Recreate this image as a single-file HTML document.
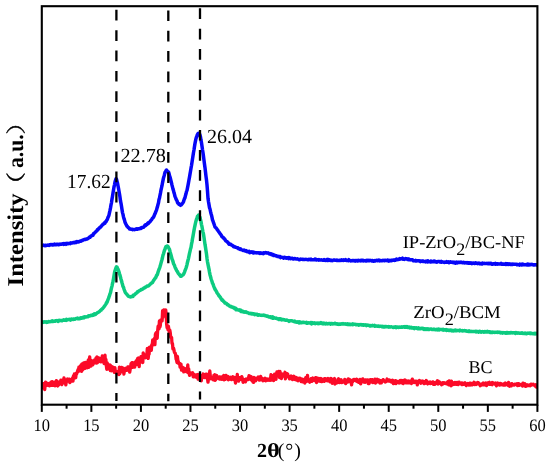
<!DOCTYPE html>
<html><head><meta charset="utf-8"><title>XRD patterns</title>
<style>
html,body{margin:0;padding:0;background:#fff;}
body{width:550px;height:466px;overflow:hidden;}
svg{display:block;}
text{font-family:"Liberation Serif","Noto Serif CJK SC",serif;fill:#000;text-rendering:geometricPrecision;}
</style></head><body>
<svg width="550" height="466" viewBox="0 0 550 466">
<rect width="550" height="466" fill="#fff"/>
<defs><clipPath id="cp"><rect x="41.8" y="6.2" width="495.59999999999997" height="398.5"/></clipPath></defs>
<g fill="none" stroke-linejoin="round" stroke-linecap="butt" clip-path="url(#cp)">
<path d="M41.5 388.5 L42.0 387.8 L42.4 384.9 L42.9 385.5 L43.3 383.6 L43.8 385.9 L44.2 385.7 L44.7 389.5 L45.1 385.5 L45.6 382.1 L46.0 384.2 L46.5 385.3 L46.9 383.1 L47.4 383.7 L47.8 384.4 L48.3 385.4 L48.7 384.5 L49.2 383.4 L49.6 385.9 L50.1 383.8 L50.5 383.8 L51.0 382.3 L51.4 383.2 L51.9 385.3 L52.3 381.7 L52.8 384.1 L53.2 385.2 L53.7 383.4 L54.1 384.3 L54.6 382.1 L55.0 385.9 L55.5 385.4 L55.9 384.0 L56.4 380.7 L56.8 381.8 L57.3 384.9 L57.7 386.0 L58.2 383.6 L58.6 385.1 L59.1 382.0 L59.5 382.6 L60.0 382.8 L60.4 383.4 L60.9 380.1 L61.3 384.0 L61.8 384.5 L62.2 380.4 L62.7 379.9 L63.1 382.6 L63.6 380.9 L64.0 377.9 L64.5 383.1 L64.9 381.9 L65.4 380.7 L65.8 384.9 L66.3 381.5 L66.7 379.8 L67.2 381.1 L67.6 379.0 L68.1 379.3 L68.5 381.1 L69.0 379.3 L69.4 379.2 L69.9 382.7 L70.3 381.0 L70.8 380.7 L71.2 379.9 L71.7 379.6 L72.1 381.0 L72.6 378.0 L73.0 381.1 L73.5 375.6 L73.9 376.5 L74.4 374.0 L74.8 375.4 L75.3 376.6 L75.7 377.8 L76.2 373.3 L76.6 374.0 L77.1 372.6 L77.5 371.3 L78.0 369.7 L78.4 371.5 L78.9 367.2 L79.3 370.3 L79.8 369.5 L80.2 367.5 L80.7 366.2 L81.1 364.9 L81.6 371.4 L82.0 364.0 L82.5 369.9 L82.9 367.4 L83.4 364.9 L83.8 362.8 L84.3 367.3 L84.7 368.5 L85.2 362.3 L85.6 363.4 L86.1 366.2 L86.5 364.3 L87.0 367.8 L87.4 361.8 L87.9 364.1 L88.3 359.8 L88.8 367.3 L89.2 360.6 L89.7 357.0 L90.1 361.6 L90.6 361.5 L91.0 366.1 L91.5 360.7 L91.9 361.3 L92.4 362.6 L92.8 364.8 L93.3 360.8 L93.7 363.3 L94.2 362.0 L94.6 360.0 L95.1 360.7 L95.5 360.5 L96.0 358.2 L96.4 363.1 L96.9 356.8 L97.3 362.8 L97.8 362.2 L98.2 359.6 L98.7 357.9 L99.1 359.2 L99.6 360.8 L100.0 361.4 L100.5 360.2 L100.9 361.9 L101.4 358.2 L101.8 360.1 L102.3 355.9 L102.7 361.6 L103.2 360.5 L103.6 359.5 L104.1 363.6 L104.5 362.9 L105.0 355.2 L105.4 362.3 L105.9 359.4 L106.3 365.6 L106.8 369.3 L107.2 363.0 L107.7 364.8 L108.1 364.5 L108.6 366.3 L109.0 367.4 L109.5 369.3 L109.9 364.8 L110.4 370.7 L110.8 365.7 L111.3 368.6 L111.7 370.8 L112.2 370.2 L112.6 367.0 L113.1 367.8 L113.5 368.6 L114.0 369.7 L114.4 372.4 L114.9 367.6 L115.3 371.3 L115.8 371.7 L116.2 371.7 L116.7 371.6 L117.1 373.9 L117.6 371.8 L118.0 372.6 L118.5 372.1 L118.9 374.6 L119.4 367.2 L119.8 373.7 L120.3 370.6 L120.7 370.6 L121.2 369.2 L121.6 367.4 L122.1 370.4 L122.5 369.8 L123.0 372.2 L123.4 368.2 L123.9 374.1 L124.3 371.6 L124.8 370.5 L125.2 369.4 L125.7 369.1 L126.1 368.3 L126.6 369.3 L127.0 370.3 L127.5 369.7 L127.9 366.9 L128.4 368.9 L128.8 367.2 L129.3 369.0 L129.7 372.2 L130.2 369.2 L130.6 366.8 L131.1 363.6 L131.5 363.6 L132.0 362.6 L132.4 367.4 L132.9 363.8 L133.3 365.2 L133.8 363.3 L134.2 364.5 L134.7 367.1 L135.1 362.1 L135.6 362.5 L136.0 361.1 L136.5 364.6 L136.9 360.0 L137.4 359.4 L137.8 358.4 L138.3 358.0 L138.7 362.1 L139.2 366.7 L139.6 358.0 L140.1 362.2 L140.5 360.2 L141.0 356.7 L141.4 358.3 L141.9 358.0 L142.3 356.6 L142.8 362.5 L143.2 352.9 L143.7 358.0 L144.1 357.6 L144.6 354.9 L145.0 356.3 L145.5 357.7 L145.9 355.5 L146.4 355.7 L146.8 355.9 L147.3 348.5 L147.7 356.9 L148.2 358.4 L148.6 354.6 L149.1 354.1 L149.5 347.1 L150.0 349.8 L150.4 347.2 L150.9 347.0 L151.3 350.3 L151.8 344.7 L152.2 345.6 L152.7 339.8 L153.1 343.5 L153.6 343.1 L154.0 339.7 L154.5 338.5 L154.9 344.6 L155.4 334.3 L155.8 333.3 L156.3 332.6 L156.7 337.1 L157.2 338.2 L157.6 331.3 L158.1 326.4 L158.5 325.7 L159.0 328.9 L159.4 321.0 L159.9 327.1 L160.3 325.6 L160.8 319.9 L161.2 320.4 L161.7 319.5 L162.1 320.9 L162.6 310.7 L163.0 317.3 L163.5 311.5 L163.9 309.9 L164.4 313.0 L164.8 312.3 L165.3 310.4 L165.7 310.0 L166.2 314.0 L166.6 323.9 L167.1 327.8 L167.5 325.9 L168.0 329.7 L168.4 326.2 L168.9 329.4 L169.3 332.4 L169.8 330.1 L170.2 332.2 L170.7 337.2 L171.1 337.8 L171.6 337.5 L172.0 343.5 L172.5 343.5 L172.9 348.9 L173.4 347.9 L173.8 349.0 L174.3 351.9 L174.7 352.8 L175.2 353.0 L175.6 354.9 L176.1 359.0 L176.5 359.9 L177.0 362.5 L177.4 356.5 L177.9 360.6 L178.3 361.5 L178.8 363.7 L179.2 363.1 L179.7 363.7 L180.1 367.2 L180.6 366.5 L181.0 364.2 L181.5 370.2 L181.9 370.0 L182.4 367.1 L182.8 370.5 L183.3 367.6 L183.7 371.9 L184.2 369.4 L184.6 368.6 L185.1 369.8 L185.5 369.3 L186.0 371.5 L186.4 371.8 L186.9 371.8 L187.3 370.9 L187.8 365.0 L188.2 372.7 L188.7 369.0 L189.1 373.4 L189.6 375.4 L190.0 373.9 L190.5 372.8 L190.9 373.4 L191.4 373.7 L191.8 373.1 L192.3 373.2 L192.7 372.7 L193.2 376.9 L193.6 374.8 L194.1 376.8 L194.5 374.6 L195.0 375.4 L195.4 375.0 L195.9 376.4 L196.3 377.2 L196.8 376.2 L197.2 374.6 L197.7 374.5 L198.1 379.2 L198.6 375.6 L199.0 375.7 L199.5 379.0 L199.9 378.4 L200.4 377.4 L200.8 375.7 L201.3 380.9 L201.7 377.3 L202.2 377.6 L202.6 376.3 L203.1 374.0 L203.5 374.2 L204.0 377.5 L204.4 377.5 L204.9 376.4 L205.3 374.7 L205.8 374.2 L206.2 376.3 L206.7 374.2 L207.1 378.6 L207.6 379.1 L208.0 382.2 L208.5 378.6 L208.9 376.0 L209.4 375.5 L209.8 370.8 L210.3 376.0 L210.7 376.8 L211.2 378.9 L211.6 378.3 L212.1 378.3 L212.5 377.6 L213.0 378.5 L213.4 379.9 L213.9 375.4 L214.3 376.5 L214.8 374.8 L215.2 380.3 L215.7 379.7 L216.1 378.8 L216.6 375.3 L217.0 377.8 L217.5 377.1 L217.9 377.7 L218.4 377.2 L218.8 378.5 L219.3 376.9 L219.7 379.2 L220.2 378.1 L220.6 377.2 L221.1 377.6 L221.5 377.1 L222.0 379.3 L222.4 377.5 L222.9 378.5 L223.3 377.4 L223.8 375.5 L224.2 379.8 L224.7 376.4 L225.1 379.4 L225.6 379.0 L226.0 375.5 L226.5 376.8 L226.9 377.5 L227.4 377.0 L227.8 376.4 L228.3 379.8 L228.7 378.1 L229.2 379.2 L229.6 377.8 L230.1 379.1 L230.5 377.3 L231.0 378.6 L231.4 379.6 L231.9 378.7 L232.3 377.9 L232.8 376.8 L233.2 379.0 L233.7 379.3 L234.1 378.3 L234.6 377.4 L235.0 379.7 L235.5 383.0 L235.9 378.3 L236.4 379.4 L236.8 379.4 L237.3 374.5 L237.7 379.0 L238.2 377.7 L238.6 381.2 L239.1 378.4 L239.5 377.6 L240.0 378.5 L240.4 379.2 L240.9 378.0 L241.3 378.9 L241.8 376.7 L242.2 378.6 L242.7 380.3 L243.1 382.3 L243.6 380.2 L244.0 379.5 L244.5 381.0 L244.9 380.8 L245.4 381.9 L245.8 380.9 L246.3 379.0 L246.7 379.6 L247.2 379.5 L247.6 379.7 L248.1 379.6 L248.5 378.0 L249.0 375.8 L249.4 378.2 L249.9 376.0 L250.3 379.4 L250.8 379.3 L251.2 376.6 L251.7 380.4 L252.1 380.7 L252.6 379.5 L253.0 382.0 L253.5 382.3 L253.9 377.3 L254.4 381.0 L254.8 380.0 L255.3 380.0 L255.7 380.8 L256.2 378.1 L256.6 378.3 L257.1 378.0 L257.5 378.1 L258.0 379.1 L258.4 377.0 L258.9 377.6 L259.3 380.2 L259.8 379.2 L260.2 379.9 L260.7 376.3 L261.1 378.0 L261.6 378.4 L262.0 379.4 L262.5 378.4 L262.9 380.8 L263.4 379.2 L263.8 379.3 L264.3 379.2 L264.7 380.3 L265.2 378.3 L265.6 380.8 L266.1 379.7 L266.5 379.2 L267.0 378.9 L267.4 379.6 L267.9 380.3 L268.3 380.1 L268.8 379.1 L269.2 379.9 L269.7 378.6 L270.1 380.3 L270.6 378.1 L271.0 374.7 L271.5 380.0 L271.9 377.9 L272.4 375.7 L272.8 377.1 L273.3 375.8 L273.7 380.5 L274.2 377.8 L274.6 374.2 L275.1 377.5 L275.5 375.7 L276.0 379.3 L276.4 374.2 L276.9 372.0 L277.3 375.7 L277.8 374.8 L278.2 374.5 L278.7 371.5 L279.1 375.7 L279.6 377.6 L280.0 371.4 L280.5 376.6 L280.9 373.6 L281.4 378.5 L281.8 375.3 L282.3 374.3 L282.7 376.5 L283.2 375.7 L283.6 373.9 L284.1 376.2 L284.5 374.3 L285.0 372.3 L285.4 378.8 L285.9 375.0 L286.3 374.8 L286.8 376.6 L287.2 373.7 L287.7 374.2 L288.1 375.8 L288.6 376.0 L289.0 377.1 L289.5 378.9 L289.9 376.6 L290.4 378.2 L290.8 378.5 L291.3 376.0 L291.7 378.2 L292.2 376.5 L292.6 379.7 L293.1 378.9 L293.5 378.3 L294.0 376.3 L294.4 378.6 L294.9 377.4 L295.3 379.7 L295.8 378.5 L296.2 377.5 L296.7 380.2 L297.1 380.0 L297.6 378.1 L298.0 380.8 L298.5 378.6 L298.9 378.7 L299.4 379.4 L299.8 378.1 L300.3 378.6 L300.7 379.1 L301.2 381.6 L301.6 381.6 L302.1 379.0 L302.5 381.8 L303.0 379.4 L303.4 380.0 L303.9 380.8 L304.3 380.0 L304.8 383.1 L305.2 379.9 L305.7 377.8 L306.1 381.5 L306.6 379.0 L307.0 379.2 L307.5 375.3 L307.9 381.1 L308.4 380.9 L308.8 380.9 L309.3 381.1 L309.7 382.2 L310.2 379.7 L310.6 381.1 L311.1 378.7 L311.5 379.3 L312.0 381.3 L312.4 380.4 L312.9 378.0 L313.3 380.4 L313.8 379.6 L314.2 378.8 L314.7 380.6 L315.1 379.4 L315.6 377.7 L316.0 378.4 L316.5 382.5 L316.9 377.9 L317.4 380.3 L317.8 380.9 L318.3 381.0 L318.7 378.4 L319.2 379.6 L319.6 380.3 L320.1 381.2 L320.5 379.2 L321.0 378.5 L321.4 381.6 L321.9 381.7 L322.3 380.7 L322.8 379.4 L323.2 380.8 L323.7 380.4 L324.1 381.4 L324.6 378.6 L325.0 380.5 L325.5 380.1 L325.9 378.8 L326.4 380.6 L326.8 380.4 L327.3 379.8 L327.7 380.9 L328.2 378.5 L328.6 380.3 L329.1 381.0 L329.5 380.8 L330.0 381.9 L330.4 378.8 L330.9 378.4 L331.3 380.8 L331.8 381.1 L332.2 383.3 L332.7 381.3 L333.1 379.4 L333.6 381.6 L334.0 379.4 L334.5 378.6 L334.9 384.0 L335.4 381.0 L335.8 381.5 L336.3 381.4 L336.7 383.0 L337.2 381.0 L337.6 382.2 L338.1 379.3 L338.5 378.8 L339.0 382.5 L339.4 382.6 L339.9 381.4 L340.3 381.0 L340.8 380.9 L341.2 379.8 L341.7 382.7 L342.1 381.6 L342.6 381.4 L343.0 381.2 L343.5 382.1 L343.9 381.4 L344.4 381.7 L344.8 379.3 L345.3 381.5 L345.7 383.6 L346.2 380.2 L346.6 380.7 L347.1 382.0 L347.5 382.1 L348.0 381.7 L348.4 378.8 L348.9 381.5 L349.3 379.4 L349.8 379.8 L350.2 381.6 L350.7 380.5 L351.1 381.9 L351.6 384.9 L352.0 381.9 L352.5 381.9 L352.9 379.8 L353.4 380.1 L353.8 379.6 L354.3 380.3 L354.7 379.6 L355.2 380.2 L355.6 380.7 L356.1 379.8 L356.5 379.2 L357.0 379.3 L357.4 381.6 L357.9 381.1 L358.3 382.3 L358.8 382.3 L359.2 380.6 L359.7 381.9 L360.1 379.3 L360.6 383.9 L361.0 382.6 L361.5 380.8 L361.9 379.7 L362.4 381.6 L362.8 378.8 L363.3 380.2 L363.7 382.0 L364.2 381.2 L364.6 380.5 L365.1 382.3 L365.5 379.9 L366.0 381.5 L366.4 380.6 L366.9 380.1 L367.3 381.7 L367.8 380.0 L368.2 383.5 L368.7 380.5 L369.1 383.6 L369.6 379.9 L370.0 381.9 L370.5 379.8 L370.9 379.6 L371.4 381.4 L371.8 382.0 L372.3 379.7 L372.7 382.6 L373.2 380.3 L373.6 381.4 L374.1 381.7 L374.5 382.0 L375.0 379.2 L375.4 383.2 L375.9 381.9 L376.3 380.8 L376.8 380.1 L377.2 379.3 L377.7 379.7 L378.1 381.9 L378.6 380.9 L379.0 380.0 L379.5 380.7 L379.9 383.1 L380.4 380.9 L380.8 380.7 L381.3 382.9 L381.7 381.9 L382.2 381.4 L382.6 380.7 L383.1 379.6 L383.5 380.0 L384.0 380.8 L384.4 381.1 L384.9 381.8 L385.3 382.0 L385.8 381.6 L386.2 381.6 L386.7 380.3 L387.1 379.0 L387.6 380.8 L388.0 380.3 L388.5 380.7 L388.9 381.1 L389.4 380.0 L389.8 380.2 L390.3 381.3 L390.7 381.6 L391.2 380.7 L391.6 382.0 L392.1 381.2 L392.5 380.3 L393.0 381.5 L393.4 383.6 L393.9 380.8 L394.3 382.8 L394.8 383.0 L395.2 383.2 L395.7 380.6 L396.1 383.7 L396.6 381.7 L397.0 381.3 L397.5 381.3 L397.9 382.2 L398.4 381.6 L398.8 381.4 L399.3 383.0 L399.7 380.8 L400.2 380.5 L400.6 382.5 L401.1 382.4 L401.5 382.8 L402.0 380.5 L402.4 382.8 L402.9 382.2 L403.3 383.6 L403.8 380.3 L404.2 381.9 L404.7 381.4 L405.1 380.0 L405.6 381.0 L406.0 382.9 L406.5 381.3 L406.9 381.0 L407.4 382.7 L407.8 382.8 L408.3 382.8 L408.7 381.0 L409.2 381.8 L409.6 382.9 L410.1 381.2 L410.5 381.1 L411.0 382.8 L411.4 383.5 L411.9 380.7 L412.3 379.2 L412.8 380.4 L413.2 380.9 L413.7 381.8 L414.1 382.6 L414.6 381.9 L415.0 381.3 L415.5 382.2 L415.9 381.1 L416.4 382.0 L416.8 381.4 L417.3 384.9 L417.7 383.0 L418.2 381.3 L418.6 381.1 L419.1 381.7 L419.5 380.5 L420.0 381.5 L420.4 381.5 L420.9 383.2 L421.3 381.8 L421.8 381.5 L422.2 381.0 L422.7 381.1 L423.1 382.3 L423.6 382.1 L424.0 383.5 L424.5 381.8 L424.9 383.5 L425.4 382.7 L425.8 382.5 L426.3 380.5 L426.7 381.2 L427.2 383.3 L427.6 383.9 L428.1 382.8 L428.5 383.3 L429.0 382.2 L429.4 382.2 L429.9 382.0 L430.3 383.6 L430.8 383.0 L431.2 382.5 L431.7 382.4 L432.1 383.3 L432.6 383.1 L433.0 381.9 L433.5 384.4 L433.9 383.0 L434.4 382.8 L434.8 384.3 L435.3 383.8 L435.7 382.8 L436.2 383.4 L436.6 381.9 L437.1 382.3 L437.5 380.8 L438.0 384.1 L438.4 381.2 L438.9 383.6 L439.3 382.2 L439.8 382.1 L440.2 382.9 L440.7 383.3 L441.1 383.7 L441.6 384.8 L442.0 383.5 L442.5 384.0 L442.9 382.6 L443.4 383.8 L443.8 383.3 L444.3 382.8 L444.7 383.1 L445.2 383.2 L445.6 383.4 L446.1 383.6 L446.5 382.8 L447.0 382.6 L447.4 384.0 L447.9 381.7 L448.3 382.8 L448.8 384.8 L449.2 380.9 L449.7 382.7 L450.1 384.0 L450.6 381.9 L451.0 385.8 L451.5 381.1 L451.9 384.7 L452.4 384.9 L452.8 384.3 L453.3 383.3 L453.7 383.8 L454.2 382.7 L454.6 384.2 L455.1 382.5 L455.5 383.3 L456.0 384.4 L456.4 382.5 L456.9 383.2 L457.3 383.7 L457.8 382.4 L458.2 384.6 L458.7 383.9 L459.1 382.2 L459.6 383.6 L460.0 382.9 L460.5 383.0 L460.9 383.7 L461.4 383.0 L461.8 384.5 L462.3 383.0 L462.7 384.5 L463.2 383.6 L463.6 384.4 L464.1 383.2 L464.5 383.3 L465.0 382.7 L465.4 384.2 L465.9 384.6 L466.3 385.6 L466.8 384.9 L467.2 384.0 L467.7 383.6 L468.1 384.1 L468.6 383.8 L469.0 385.1 L469.5 384.6 L469.9 383.1 L470.4 383.2 L470.8 385.0 L471.3 384.1 L471.7 383.6 L472.2 384.9 L472.6 383.5 L473.1 383.6 L473.5 383.5 L474.0 382.2 L474.4 384.6 L474.9 382.9 L475.3 383.4 L475.8 383.3 L476.2 384.5 L476.7 383.9 L477.1 383.9 L477.6 382.5 L478.0 383.9 L478.5 382.7 L478.9 384.2 L479.4 384.3 L479.8 384.0 L480.3 385.7 L480.7 384.4 L481.2 384.5 L481.6 384.1 L482.1 383.9 L482.5 384.8 L483.0 384.9 L483.4 383.0 L483.9 384.9 L484.3 384.5 L484.8 384.8 L485.2 384.4 L485.7 383.0 L486.1 383.1 L486.6 385.6 L487.0 384.3 L487.5 382.9 L487.9 384.4 L488.4 383.8 L488.8 382.6 L489.3 382.3 L489.7 382.8 L490.2 384.4 L490.6 384.1 L491.1 384.0 L491.5 384.4 L492.0 384.7 L492.4 382.5 L492.9 383.9 L493.3 383.5 L493.8 383.2 L494.2 383.8 L494.7 384.1 L495.1 384.0 L495.6 383.1 L496.0 383.9 L496.5 385.8 L496.9 383.4 L497.4 382.9 L497.8 384.5 L498.3 384.7 L498.7 384.6 L499.2 383.4 L499.6 385.1 L500.1 383.7 L500.5 383.4 L501.0 383.8 L501.4 384.2 L501.9 384.9 L502.3 384.8 L502.8 384.3 L503.2 385.1 L503.7 384.4 L504.1 385.1 L504.6 383.3 L505.0 383.2 L505.5 385.0 L505.9 383.3 L506.4 384.2 L506.8 384.3 L507.3 384.0 L507.7 384.1 L508.2 385.5 L508.6 382.5 L509.1 385.1 L509.5 386.2 L510.0 384.5 L510.4 384.5 L510.9 385.0 L511.3 385.9 L511.8 383.6 L512.2 384.6 L512.7 384.4 L513.1 384.9 L513.6 384.6 L514.0 385.0 L514.5 384.2 L514.9 384.6 L515.4 384.1 L515.8 384.1 L516.3 384.5 L516.7 384.5 L517.2 383.7 L517.6 385.7 L518.1 384.5 L518.5 383.6 L519.0 385.4 L519.4 384.1 L519.9 385.0 L520.3 384.6 L520.8 384.8 L521.2 384.8 L521.7 384.2 L522.1 384.7 L522.6 386.1 L523.0 383.1 L523.5 384.7 L523.9 385.0 L524.4 383.9 L524.8 383.7 L525.3 386.3 L525.7 384.5 L526.2 386.2 L526.6 385.1 L527.1 384.8 L527.5 385.1 L528.0 385.2 L528.4 385.6 L528.9 385.1 L529.3 384.9 L529.8 384.9 L530.2 385.7 L530.7 385.4 L531.1 384.1 L531.6 384.4 L532.0 385.0 L532.5 384.4 L532.9 384.6 L533.4 384.2 L533.8 384.7 L534.3 385.1 L534.7 385.5 L535.2 384.9 L535.6 386.3 L536.1 384.8 L536.5 387.1 L537.0 385.6 L537.4 385.2" stroke="#fc0a28" stroke-width="3.3"/>
<path d="M41.5 322.2 L42.0 322.2 L42.5 321.9 L43.0 322.4 L43.5 322.0 L44.0 322.2 L44.5 321.8 L45.0 322.1 L45.5 322.1 L46.0 321.8 L46.5 322.4 L47.0 322.0 L47.5 322.3 L48.0 322.0 L48.5 321.6 L49.0 321.6 L49.5 321.8 L50.0 321.7 L50.5 321.6 L51.0 321.5 L51.5 321.1 L52.0 321.4 L52.5 320.9 L53.0 321.5 L53.5 321.2 L54.0 321.1 L54.5 321.2 L55.0 321.3 L55.5 320.8 L56.0 320.7 L56.5 320.8 L57.0 320.5 L57.5 320.7 L58.0 321.3 L58.5 320.5 L59.0 320.9 L59.5 320.3 L60.0 320.7 L60.5 320.5 L61.0 320.5 L61.5 320.6 L62.0 320.8 L62.5 320.3 L63.0 320.3 L63.5 319.9 L64.0 320.3 L64.5 320.0 L65.0 320.2 L65.5 319.9 L66.0 320.3 L66.5 319.3 L67.0 319.7 L67.5 320.0 L68.0 319.6 L68.5 319.5 L69.0 319.5 L69.5 319.2 L70.0 319.5 L70.5 320.1 L71.0 319.7 L71.5 319.1 L72.0 319.1 L72.5 319.2 L73.0 319.5 L73.5 319.0 L74.0 318.9 L74.5 319.3 L75.0 319.2 L75.5 318.8 L76.0 318.6 L76.5 318.4 L77.0 318.6 L77.5 318.1 L78.0 318.8 L78.5 318.4 L79.0 318.5 L79.5 318.8 L80.0 318.6 L80.5 317.9 L81.0 318.3 L81.5 318.3 L82.0 317.7 L82.5 317.6 L83.0 317.7 L83.5 317.2 L84.0 317.9 L84.5 316.8 L85.0 317.0 L85.5 317.1 L86.0 316.9 L86.5 316.9 L87.0 316.8 L87.5 316.5 L88.0 316.7 L88.5 315.8 L89.0 316.1 L89.5 315.8 L90.0 315.9 L90.5 315.7 L91.0 315.3 L91.5 315.2 L92.0 315.4 L92.5 315.1 L93.0 314.7 L93.5 315.2 L94.0 315.0 L94.5 313.9 L95.0 314.1 L95.5 314.5 L96.0 313.8 L96.5 313.5 L97.0 313.1 L97.5 312.7 L98.0 312.5 L98.5 312.1 L99.0 312.1 L99.5 311.4 L100.0 311.0 L100.5 310.4 L101.0 310.2 L101.5 309.4 L102.0 309.1 L102.5 308.8 L103.0 308.1 L103.5 307.5 L104.0 306.9 L104.5 306.1 L105.0 305.4 L105.5 304.6 L106.0 304.0 L106.5 302.7 L107.0 302.3 L107.5 301.0 L108.0 299.6 L108.5 298.4 L109.0 296.9 L109.5 295.6 L110.0 293.8 L110.5 292.6 L111.0 290.2 L111.5 287.9 L112.0 286.1 L112.5 283.5 L113.0 281.4 L113.5 278.7 L114.0 275.7 L114.5 272.7 L115.0 270.7 L115.5 269.5 L116.0 267.8 L116.5 266.8 L117.0 267.2 L117.5 268.5 L118.0 269.3 L118.5 270.4 L119.0 272.1 L119.5 273.8 L120.0 275.3 L120.5 277.1 L121.0 279.2 L121.5 280.8 L122.0 282.7 L122.5 284.4 L123.0 286.6 L123.5 287.3 L124.0 289.0 L124.5 290.4 L125.0 291.7 L125.5 292.8 L126.0 293.3 L126.5 293.9 L127.0 294.4 L127.5 295.1 L128.0 295.9 L128.5 296.2 L129.0 296.2 L129.5 296.6 L130.0 296.8 L130.5 297.0 L131.0 296.7 L131.5 296.7 L132.0 296.1 L132.5 296.0 L133.0 296.4 L133.5 295.1 L134.0 295.1 L134.5 294.8 L135.0 294.2 L135.5 293.7 L136.0 293.5 L136.5 293.1 L137.0 292.6 L137.5 291.7 L138.0 291.8 L138.5 291.2 L139.0 290.9 L139.5 290.7 L140.0 290.5 L140.5 290.2 L141.0 289.6 L141.5 289.6 L142.0 289.4 L142.5 289.1 L143.0 288.9 L143.5 288.3 L144.0 288.0 L144.5 288.0 L145.0 287.2 L145.5 287.3 L146.0 286.8 L146.5 286.6 L147.0 286.0 L147.5 286.0 L148.0 285.9 L148.5 285.9 L149.0 285.5 L149.5 284.9 L150.0 284.5 L150.5 283.9 L151.0 283.7 L151.5 283.1 L152.0 282.8 L152.5 282.5 L153.0 281.5 L153.5 280.5 L154.0 280.0 L154.5 279.1 L155.0 278.4 L155.5 278.2 L156.0 277.0 L156.5 275.6 L157.0 275.1 L157.5 274.1 L158.0 272.3 L158.5 270.8 L159.0 269.4 L159.5 268.1 L160.0 266.6 L160.5 264.9 L161.0 263.1 L161.5 261.3 L162.0 259.5 L162.5 257.5 L163.0 255.2 L163.5 253.8 L164.0 252.1 L164.5 250.3 L165.0 249.2 L165.5 247.6 L166.0 246.5 L166.5 246.5 L167.0 246.0 L167.5 246.0 L168.0 246.6 L168.5 247.4 L169.0 248.5 L169.5 249.4 L170.0 251.4 L170.5 253.2 L171.0 254.9 L171.5 257.0 L172.0 259.0 L172.5 260.2 L173.0 261.5 L173.5 263.7 L174.0 264.4 L174.5 265.5 L175.0 267.1 L175.5 268.2 L176.0 269.0 L176.5 270.4 L177.0 271.0 L177.5 271.8 L178.0 272.8 L178.5 273.7 L179.0 274.0 L179.5 274.9 L180.0 275.2 L180.5 276.2 L181.0 275.6 L181.5 276.1 L182.0 275.5 L182.5 275.1 L183.0 274.9 L183.5 274.2 L184.0 273.3 L184.5 272.1 L185.0 270.7 L185.5 269.4 L186.0 268.1 L186.5 266.4 L187.0 264.6 L187.5 262.2 L188.0 260.3 L188.5 258.3 L189.0 255.9 L189.5 253.4 L190.0 251.3 L190.5 249.0 L191.0 247.4 L191.5 244.2 L192.0 241.9 L192.5 238.8 L193.0 236.1 L193.5 233.3 L194.0 230.4 L194.5 227.7 L195.0 225.3 L195.5 223.0 L196.0 220.9 L196.5 219.2 L197.0 218.1 L197.5 216.2 L198.0 215.9 L198.5 215.1 L199.0 215.6 L199.5 216.5 L200.0 217.4 L200.5 219.8 L201.0 221.6 L201.5 224.6 L202.0 226.7 L202.5 229.5 L203.0 232.1 L203.5 234.2 L204.0 237.6 L204.5 240.9 L205.0 244.4 L205.5 247.4 L206.0 250.8 L206.5 254.1 L207.0 258.4 L207.5 261.8 L208.0 264.3 L208.5 267.0 L209.0 269.1 L209.5 272.1 L210.0 274.7 L210.5 276.4 L211.0 278.5 L211.5 280.1 L212.0 281.3 L212.5 283.3 L213.0 284.0 L213.5 285.6 L214.0 286.9 L214.5 288.1 L215.0 289.1 L215.5 290.1 L216.0 290.8 L216.5 291.6 L217.0 292.8 L217.5 293.5 L218.0 294.1 L218.5 294.9 L219.0 295.8 L219.5 296.2 L220.0 297.0 L220.5 297.5 L221.0 298.6 L221.5 299.2 L222.0 300.2 L222.5 299.9 L223.0 300.6 L223.5 301.5 L224.0 301.7 L224.5 302.2 L225.0 303.1 L225.5 303.0 L226.0 303.3 L226.5 303.6 L227.0 304.4 L227.5 304.7 L228.0 304.6 L228.5 305.0 L229.0 305.7 L229.5 306.0 L230.0 306.0 L230.5 306.6 L231.0 306.8 L231.5 306.5 L232.0 307.1 L232.5 307.5 L233.0 307.5 L233.5 307.3 L234.0 308.0 L234.5 308.5 L235.0 308.9 L235.5 308.2 L236.0 309.6 L236.5 308.9 L237.0 309.6 L237.5 309.8 L238.0 310.0 L238.5 310.0 L239.0 309.8 L239.5 310.5 L240.0 310.3 L240.5 310.0 L241.0 311.5 L241.5 311.2 L242.0 311.6 L242.5 311.1 L243.0 311.8 L243.5 312.0 L244.0 312.2 L244.5 311.9 L245.0 311.8 L245.5 312.2 L246.0 311.8 L246.5 312.0 L247.0 312.6 L247.5 312.5 L248.0 312.8 L248.5 312.9 L249.0 313.6 L249.5 313.5 L250.0 313.3 L250.5 313.7 L251.0 313.3 L251.5 313.5 L252.0 314.0 L252.5 313.5 L253.0 313.9 L253.5 313.7 L254.0 314.1 L254.5 314.6 L255.0 314.1 L255.5 314.4 L256.0 314.2 L256.5 314.2 L257.0 314.3 L257.5 315.0 L258.0 315.3 L258.5 314.9 L259.0 314.7 L259.5 315.1 L260.0 314.9 L260.5 315.2 L261.0 315.2 L261.5 315.2 L262.0 315.4 L262.5 315.2 L263.0 315.3 L263.5 315.1 L264.0 315.5 L264.5 315.3 L265.0 315.7 L265.5 315.6 L266.0 316.0 L266.5 316.2 L267.0 315.9 L267.5 316.1 L268.0 316.2 L268.5 316.8 L269.0 317.1 L269.5 317.1 L270.0 316.9 L270.5 317.5 L271.0 316.8 L271.5 317.7 L272.0 317.3 L272.5 316.9 L273.0 318.3 L273.5 318.2 L274.0 317.6 L274.5 318.0 L275.0 318.1 L275.5 318.2 L276.0 318.0 L276.5 318.3 L277.0 318.7 L277.5 318.7 L278.0 319.1 L278.5 318.9 L279.0 319.6 L279.5 318.9 L280.0 319.2 L280.5 318.8 L281.0 319.0 L281.5 319.8 L282.0 319.3 L282.5 319.8 L283.0 319.7 L283.5 319.5 L284.0 319.8 L284.5 319.8 L285.0 319.9 L285.5 320.3 L286.0 320.3 L286.5 320.1 L287.0 320.1 L287.5 320.5 L288.0 320.5 L288.5 320.8 L289.0 321.3 L289.5 320.9 L290.0 320.8 L290.5 320.8 L291.0 320.7 L291.5 320.8 L292.0 320.8 L292.5 321.0 L293.0 321.1 L293.5 321.5 L294.0 321.3 L294.5 321.4 L295.0 321.2 L295.5 322.0 L296.0 321.8 L296.5 322.2 L297.0 322.0 L297.5 322.3 L298.0 321.9 L298.5 322.2 L299.0 322.8 L299.5 321.8 L300.0 322.5 L300.5 322.7 L301.0 322.4 L301.5 322.5 L302.0 322.7 L302.5 322.3 L303.0 322.6 L303.5 322.3 L304.0 322.4 L304.5 322.4 L305.0 322.6 L305.5 322.7 L306.0 322.8 L306.5 322.4 L307.0 323.3 L307.5 323.1 L308.0 323.0 L308.5 322.8 L309.0 322.9 L309.5 323.1 L310.0 323.1 L310.5 322.5 L311.0 323.2 L311.5 323.8 L312.0 322.6 L312.5 323.3 L313.0 323.2 L313.5 323.1 L314.0 323.5 L314.5 322.8 L315.0 323.2 L315.5 323.6 L316.0 323.2 L316.5 323.1 L317.0 323.3 L317.5 323.1 L318.0 323.7 L318.5 323.1 L319.0 323.5 L319.5 323.0 L320.0 323.5 L320.5 323.3 L321.0 322.7 L321.5 323.4 L322.0 323.1 L322.5 323.3 L323.0 323.8 L323.5 323.1 L324.0 323.2 L324.5 323.8 L325.0 323.5 L325.5 323.9 L326.0 323.6 L326.5 323.3 L327.0 323.5 L327.5 323.9 L328.0 323.8 L328.5 323.6 L329.0 323.6 L329.5 323.6 L330.0 323.5 L330.5 324.1 L331.0 323.6 L331.5 323.4 L332.0 323.5 L332.5 323.9 L333.0 323.9 L333.5 323.7 L334.0 323.6 L334.5 323.8 L335.0 323.3 L335.5 323.4 L336.0 324.0 L336.5 323.7 L337.0 323.9 L337.5 324.2 L338.0 324.0 L338.5 323.9 L339.0 324.5 L339.5 324.1 L340.0 323.9 L340.5 324.2 L341.0 324.1 L341.5 323.8 L342.0 324.0 L342.5 324.0 L343.0 323.6 L343.5 324.0 L344.0 324.0 L344.5 324.0 L345.0 323.7 L345.5 324.1 L346.0 324.2 L346.5 324.2 L347.0 323.9 L347.5 324.4 L348.0 323.9 L348.5 324.2 L349.0 324.6 L349.5 324.1 L350.0 324.2 L350.5 324.6 L351.0 324.3 L351.5 324.3 L352.0 324.5 L352.5 324.7 L353.0 323.9 L353.5 324.3 L354.0 324.2 L354.5 324.2 L355.0 324.3 L355.5 324.4 L356.0 324.7 L356.5 324.4 L357.0 324.7 L357.5 324.8 L358.0 324.5 L358.5 324.7 L359.0 325.2 L359.5 324.8 L360.0 324.6 L360.5 324.8 L361.0 324.6 L361.5 324.9 L362.0 325.1 L362.5 324.7 L363.0 324.9 L363.5 325.3 L364.0 324.9 L364.5 325.1 L365.0 324.8 L365.5 324.9 L366.0 325.0 L366.5 325.7 L367.0 325.1 L367.5 325.1 L368.0 325.2 L368.5 325.3 L369.0 325.6 L369.5 325.5 L370.0 326.0 L370.5 325.6 L371.0 325.9 L371.5 325.7 L372.0 325.8 L372.5 325.3 L373.0 325.7 L373.5 325.8 L374.0 325.8 L374.5 325.4 L375.0 326.2 L375.5 325.9 L376.0 325.9 L376.5 326.0 L377.0 326.1 L377.5 326.3 L378.0 325.9 L378.5 326.0 L379.0 326.4 L379.5 326.4 L380.0 326.3 L380.5 326.3 L381.0 326.3 L381.5 326.5 L382.0 326.8 L382.5 326.3 L383.0 327.0 L383.5 326.9 L384.0 326.6 L384.5 326.9 L385.0 326.4 L385.5 326.4 L386.0 326.5 L386.5 326.8 L387.0 326.8 L387.5 326.8 L388.0 327.0 L388.5 326.5 L389.0 327.2 L389.5 326.7 L390.0 326.9 L390.5 327.0 L391.0 326.9 L391.5 326.8 L392.0 327.0 L392.5 327.2 L393.0 327.4 L393.5 327.4 L394.0 327.0 L394.5 327.1 L395.0 327.1 L395.5 327.4 L396.0 326.8 L396.5 327.6 L397.0 327.1 L397.5 327.0 L398.0 327.2 L398.5 327.4 L399.0 327.1 L399.5 327.3 L400.0 327.0 L400.5 327.3 L401.0 327.2 L401.5 326.9 L402.0 327.3 L402.5 326.9 L403.0 326.9 L403.5 326.7 L404.0 326.9 L404.5 327.2 L405.0 326.7 L405.5 327.3 L406.0 327.3 L406.5 327.3 L407.0 326.7 L407.5 327.3 L408.0 327.6 L408.5 327.3 L409.0 327.5 L409.5 327.0 L410.0 327.8 L410.5 327.5 L411.0 327.9 L411.5 327.3 L412.0 327.9 L412.5 327.8 L413.0 328.1 L413.5 327.7 L414.0 327.8 L414.5 328.6 L415.0 327.8 L415.5 327.9 L416.0 328.1 L416.5 327.9 L417.0 328.5 L417.5 328.7 L418.0 328.1 L418.5 327.9 L419.0 328.7 L419.5 328.7 L420.0 328.7 L420.5 328.8 L421.0 328.3 L421.5 328.6 L422.0 328.3 L422.5 328.3 L423.0 329.0 L423.5 328.6 L424.0 329.4 L424.5 328.8 L425.0 328.7 L425.5 329.1 L426.0 329.4 L426.5 329.1 L427.0 328.7 L427.5 329.1 L428.0 329.4 L428.5 329.0 L429.0 328.9 L429.5 329.4 L430.0 329.2 L430.5 328.9 L431.0 329.1 L431.5 329.1 L432.0 329.4 L432.5 329.4 L433.0 329.6 L433.5 329.6 L434.0 329.0 L434.5 329.5 L435.0 329.7 L435.5 329.6 L436.0 329.8 L436.5 329.4 L437.0 329.3 L437.5 329.8 L438.0 329.4 L438.5 329.1 L439.0 329.9 L439.5 329.5 L440.0 329.6 L440.5 329.4 L441.0 329.4 L441.5 329.5 L442.0 329.7 L442.5 329.9 L443.0 329.3 L443.5 330.1 L444.0 329.6 L444.5 329.7 L445.0 330.1 L445.5 330.0 L446.0 329.6 L446.5 330.5 L447.0 329.8 L447.5 330.1 L448.0 330.1 L448.5 330.5 L449.0 330.0 L449.5 330.4 L450.0 330.0 L450.5 330.5 L451.0 330.0 L451.5 330.2 L452.0 330.8 L452.5 330.4 L453.0 330.4 L453.5 330.9 L454.0 330.5 L454.5 330.2 L455.0 330.6 L455.5 330.2 L456.0 330.8 L456.5 330.8 L457.0 330.4 L457.5 330.4 L458.0 330.6 L458.5 330.6 L459.0 330.4 L459.5 330.8 L460.0 330.2 L460.5 330.6 L461.0 330.6 L461.5 330.7 L462.0 330.8 L462.5 330.5 L463.0 331.0 L463.5 330.8 L464.0 330.7 L464.5 330.5 L465.0 330.6 L465.5 331.0 L466.0 330.7 L466.5 331.0 L467.0 331.3 L467.5 331.3 L468.0 331.5 L468.5 331.0 L469.0 330.8 L469.5 331.4 L470.0 331.2 L470.5 331.5 L471.0 331.2 L471.5 331.5 L472.0 331.5 L472.5 331.5 L473.0 331.4 L473.5 331.4 L474.0 331.4 L474.5 331.4 L475.0 331.6 L475.5 331.3 L476.0 331.9 L476.5 331.4 L477.0 331.7 L477.5 331.5 L478.0 331.5 L478.5 332.1 L479.0 331.5 L479.5 331.3 L480.0 331.4 L480.5 331.6 L481.0 332.2 L481.5 331.7 L482.0 331.9 L482.5 331.5 L483.0 331.8 L483.5 331.9 L484.0 332.2 L484.5 331.6 L485.0 332.0 L485.5 331.9 L486.0 331.6 L486.5 331.9 L487.0 331.9 L487.5 331.4 L488.0 332.1 L488.5 332.1 L489.0 331.9 L489.5 331.7 L490.0 332.4 L490.5 332.1 L491.0 332.4 L491.5 332.5 L492.0 332.0 L492.5 332.4 L493.0 332.1 L493.5 332.2 L494.0 332.2 L494.5 332.2 L495.0 332.5 L495.5 332.3 L496.0 332.3 L496.5 332.3 L497.0 332.4 L497.5 332.1 L498.0 332.3 L498.5 332.4 L499.0 332.3 L499.5 332.4 L500.0 332.3 L500.5 333.0 L501.0 332.8 L501.5 332.6 L502.0 332.5 L502.5 333.1 L503.0 332.7 L503.5 332.6 L504.0 332.7 L504.5 332.7 L505.0 333.0 L505.5 332.7 L506.0 333.2 L506.5 332.5 L507.0 332.9 L507.5 332.5 L508.0 333.2 L508.5 332.7 L509.0 332.8 L509.5 333.0 L510.0 333.1 L510.5 332.6 L511.0 332.8 L511.5 332.5 L512.0 332.9 L512.5 332.9 L513.0 332.8 L513.5 332.8 L514.0 332.9 L514.5 332.8 L515.0 333.1 L515.5 333.4 L516.0 332.5 L516.5 333.0 L517.0 333.0 L517.5 333.2 L518.0 332.8 L518.5 333.1 L519.0 332.9 L519.5 333.3 L520.0 333.2 L520.5 333.1 L521.0 333.3 L521.5 333.1 L522.0 332.8 L522.5 333.4 L523.0 333.3 L523.5 333.2 L524.0 333.5 L524.5 333.6 L525.0 333.0 L525.5 333.1 L526.0 333.7 L526.5 333.7 L527.0 333.2 L527.5 333.1 L528.0 333.2 L528.5 333.3 L529.0 333.0 L529.5 333.4 L530.0 333.1 L530.5 333.1 L531.0 333.7 L531.5 333.3 L532.0 333.5 L532.5 333.6 L533.0 333.7 L533.5 333.4 L534.0 333.5 L534.5 333.3 L535.0 334.0 L535.5 333.7 L536.0 333.3 L536.5 333.6 L537.0 333.8 L537.5 333.7" stroke="#0ccb80" stroke-width="3.5"/>
<path d="M41.5 245.6 L42.0 245.7 L42.5 245.5 L43.0 245.3 L43.5 245.4 L44.0 245.2 L44.5 245.5 L45.0 245.8 L45.5 245.3 L46.0 245.2 L46.5 245.5 L47.0 245.4 L47.5 245.3 L48.0 245.0 L48.5 245.2 L49.0 245.4 L49.5 244.8 L50.0 245.0 L50.5 244.5 L51.0 244.7 L51.5 244.5 L52.0 244.9 L52.5 244.6 L53.0 245.0 L53.5 244.9 L54.0 244.8 L54.5 244.1 L55.0 244.6 L55.5 244.7 L56.0 244.7 L56.5 244.2 L57.0 244.4 L57.5 244.2 L58.0 244.2 L58.5 244.7 L59.0 244.2 L59.5 244.3 L60.0 244.5 L60.5 244.1 L61.0 244.2 L61.5 244.2 L62.0 244.1 L62.5 243.7 L63.0 244.0 L63.5 244.4 L64.0 243.5 L64.5 244.1 L65.0 243.9 L65.5 243.6 L66.0 244.3 L66.5 243.9 L67.0 243.3 L67.5 243.6 L68.0 243.7 L68.5 243.4 L69.0 243.6 L69.5 243.3 L70.0 243.4 L70.5 243.6 L71.0 242.9 L71.5 243.1 L72.0 242.9 L72.5 242.9 L73.0 242.5 L73.5 242.6 L74.0 242.6 L74.5 242.8 L75.0 242.8 L75.5 242.0 L76.0 242.1 L76.5 242.4 L77.0 241.5 L77.5 241.8 L78.0 241.8 L78.5 242.0 L79.0 241.7 L79.5 241.3 L80.0 241.1 L80.5 241.0 L81.0 241.3 L81.5 240.6 L82.0 240.4 L82.5 240.4 L83.0 240.1 L83.5 239.9 L84.0 239.5 L84.5 239.6 L85.0 239.3 L85.5 239.6 L86.0 239.3 L86.5 238.9 L87.0 238.9 L87.5 238.4 L88.0 238.5 L88.5 238.0 L89.0 237.9 L89.5 237.1 L90.0 237.3 L90.5 236.4 L91.0 235.9 L91.5 236.0 L92.0 235.3 L92.5 235.1 L93.0 235.2 L93.5 233.8 L94.0 233.3 L94.5 233.1 L95.0 232.6 L95.5 231.9 L96.0 231.4 L96.5 231.2 L97.0 230.6 L97.5 229.6 L98.0 229.4 L98.5 228.9 L99.0 228.1 L99.5 228.0 L100.0 227.2 L100.5 227.2 L101.0 226.5 L101.5 226.0 L102.0 225.3 L102.5 225.0 L103.0 224.1 L103.5 223.9 L104.0 223.9 L104.5 222.8 L105.0 223.1 L105.5 221.8 L106.0 221.8 L106.5 220.6 L107.0 220.1 L107.5 218.9 L108.0 217.2 L108.5 216.5 L109.0 215.0 L109.5 212.6 L110.0 210.4 L110.5 207.9 L111.0 204.9 L111.5 202.6 L112.0 199.1 L112.5 196.2 L113.0 193.0 L113.5 190.1 L114.0 187.0 L114.5 184.8 L115.0 182.0 L115.5 180.2 L116.0 178.7 L116.5 179.1 L117.0 181.1 L117.5 183.1 L118.0 185.8 L118.5 188.4 L119.0 191.3 L119.5 194.0 L120.0 197.2 L120.5 200.9 L121.0 203.3 L121.5 206.2 L122.0 209.5 L122.5 212.6 L123.0 214.4 L123.5 216.9 L124.0 218.7 L124.5 220.1 L125.0 222.2 L125.5 223.3 L126.0 224.4 L126.5 225.2 L127.0 226.3 L127.5 226.6 L128.0 227.4 L128.5 227.6 L129.0 228.0 L129.5 229.0 L130.0 228.7 L130.5 229.1 L131.0 229.2 L131.5 229.2 L132.0 229.3 L132.5 229.7 L133.0 229.4 L133.5 229.4 L134.0 229.5 L134.5 229.7 L135.0 229.5 L135.5 229.4 L136.0 229.0 L136.5 228.7 L137.0 229.3 L137.5 229.2 L138.0 228.8 L138.5 228.9 L139.0 228.8 L139.5 228.7 L140.0 228.6 L140.5 228.0 L141.0 228.4 L141.5 227.5 L142.0 227.8 L142.5 227.5 L143.0 227.3 L143.5 227.3 L144.0 226.8 L144.5 225.8 L145.0 225.2 L145.5 225.6 L146.0 224.7 L146.5 224.6 L147.0 224.5 L147.5 223.4 L148.0 222.9 L148.5 223.2 L149.0 222.7 L149.5 222.1 L150.0 221.7 L150.5 220.9 L151.0 220.2 L151.5 219.9 L152.0 219.0 L152.5 218.1 L153.0 218.0 L153.5 217.0 L154.0 216.2 L154.5 214.8 L155.0 213.8 L155.5 212.5 L156.0 211.2 L156.5 210.1 L157.0 208.1 L157.5 206.6 L158.0 204.5 L158.5 202.8 L159.0 199.6 L159.5 198.0 L160.0 195.3 L160.5 192.9 L161.0 190.0 L161.5 187.9 L162.0 185.7 L162.5 182.8 L163.0 180.3 L163.5 177.9 L164.0 176.3 L164.5 174.4 L165.0 172.3 L165.5 171.8 L166.0 170.8 L166.5 170.0 L167.0 170.7 L167.5 171.5 L168.0 171.6 L168.5 172.0 L169.0 173.3 L169.5 175.6 L170.0 177.0 L170.5 178.8 L171.0 180.8 L171.5 182.9 L172.0 185.2 L172.5 187.2 L173.0 189.1 L173.5 190.6 L174.0 192.8 L174.5 194.3 L175.0 196.5 L175.5 197.4 L176.0 199.0 L176.5 200.1 L177.0 200.8 L177.5 202.5 L178.0 203.3 L178.5 203.4 L179.0 204.3 L179.5 204.7 L180.0 204.3 L180.5 205.3 L181.0 205.0 L181.5 204.7 L182.0 203.8 L182.5 203.4 L183.0 202.6 L183.5 201.7 L184.0 200.1 L184.5 198.6 L185.0 197.6 L185.5 195.4 L186.0 193.8 L186.5 191.5 L187.0 190.4 L187.5 187.9 L188.0 185.3 L188.5 182.6 L189.0 179.8 L189.5 177.1 L190.0 174.1 L190.5 171.2 L191.0 168.2 L191.5 165.5 L192.0 162.2 L192.5 159.0 L193.0 155.7 L193.5 152.5 L194.0 149.8 L194.5 146.4 L195.0 143.4 L195.5 140.9 L196.0 138.5 L196.5 136.9 L197.0 135.7 L197.5 134.4 L198.0 133.6 L198.5 133.3 L199.0 133.5 L199.5 133.8 L200.0 135.2 L200.5 136.9 L201.0 140.2 L201.5 142.8 L202.0 146.2 L202.5 149.8 L203.0 152.8 L203.5 156.4 L204.0 160.4 L204.5 164.2 L205.0 167.8 L205.5 172.0 L206.0 176.4 L206.5 180.1 L207.0 184.9 L207.5 191.2 L208.0 198.3 L208.5 201.7 L209.0 204.6 L209.5 207.6 L210.0 209.0 L210.5 211.4 L211.0 213.5 L211.5 215.2 L212.0 217.4 L212.5 219.8 L213.0 221.1 L213.5 222.7 L214.0 223.9 L214.5 225.5 L215.0 226.9 L215.5 227.6 L216.0 227.8 L216.5 228.5 L217.0 229.2 L217.5 230.1 L218.0 230.6 L218.5 231.4 L219.0 232.1 L219.5 232.7 L220.0 233.5 L220.5 234.2 L221.0 234.8 L221.5 235.7 L222.0 236.7 L222.5 237.0 L223.0 237.5 L223.5 237.6 L224.0 238.8 L224.5 238.7 L225.0 239.4 L225.5 240.5 L226.0 241.0 L226.5 241.3 L227.0 241.4 L227.5 242.2 L228.0 242.5 L228.5 243.3 L229.0 244.2 L229.5 243.9 L230.0 244.0 L230.5 244.2 L231.0 244.8 L231.5 245.1 L232.0 245.1 L232.5 245.7 L233.0 245.7 L233.5 246.6 L234.0 246.8 L234.5 247.0 L235.0 246.8 L235.5 247.3 L236.0 247.4 L236.5 247.5 L237.0 247.8 L237.5 247.7 L238.0 247.9 L238.5 248.7 L239.0 248.6 L239.5 249.0 L240.0 249.4 L240.5 248.8 L241.0 249.3 L241.5 249.7 L242.0 249.9 L242.5 249.9 L243.0 250.5 L243.5 250.4 L244.0 250.1 L244.5 250.4 L245.0 251.0 L245.5 251.0 L246.0 250.5 L246.5 251.5 L247.0 251.4 L247.5 251.8 L248.0 251.4 L248.5 251.6 L249.0 251.4 L249.5 252.6 L250.0 251.9 L250.5 252.5 L251.0 252.0 L251.5 252.3 L252.0 251.9 L252.5 252.3 L253.0 252.8 L253.5 252.2 L254.0 252.9 L254.5 252.8 L255.0 252.5 L255.5 252.7 L256.0 252.7 L256.5 252.9 L257.0 252.8 L257.5 252.8 L258.0 253.0 L258.5 252.8 L259.0 252.8 L259.5 253.2 L260.0 253.5 L260.5 252.8 L261.0 253.3 L261.5 253.1 L262.0 253.0 L262.5 253.5 L263.0 253.1 L263.5 253.6 L264.0 252.8 L264.5 253.1 L265.0 252.8 L265.5 252.6 L266.0 253.0 L266.5 252.8 L267.0 253.0 L267.5 253.0 L268.0 252.8 L268.5 253.3 L269.0 253.5 L269.5 254.0 L270.0 253.6 L270.5 254.1 L271.0 253.8 L271.5 254.6 L272.0 254.4 L272.5 254.3 L273.0 255.0 L273.5 255.5 L274.0 254.9 L274.5 255.2 L275.0 255.4 L275.5 255.4 L276.0 256.0 L276.5 255.8 L277.0 256.0 L277.5 256.5 L278.0 256.3 L278.5 256.7 L279.0 256.4 L279.5 256.5 L280.0 256.4 L280.5 257.6 L281.0 257.1 L281.5 257.3 L282.0 257.3 L282.5 257.5 L283.0 257.5 L283.5 258.1 L284.0 257.4 L284.5 257.3 L285.0 257.5 L285.5 257.5 L286.0 258.1 L286.5 258.2 L287.0 257.8 L287.5 257.7 L288.0 258.1 L288.5 258.6 L289.0 257.5 L289.5 258.5 L290.0 258.1 L290.5 258.7 L291.0 258.2 L291.5 258.5 L292.0 258.2 L292.5 258.4 L293.0 259.1 L293.5 259.0 L294.0 258.7 L294.5 258.6 L295.0 258.4 L295.5 258.9 L296.0 259.0 L296.5 259.0 L297.0 259.1 L297.5 258.8 L298.0 259.2 L298.5 259.2 L299.0 259.6 L299.5 259.8 L300.0 259.3 L300.5 259.1 L301.0 259.3 L301.5 259.2 L302.0 259.2 L302.5 259.4 L303.0 259.2 L303.5 259.6 L304.0 259.5 L304.5 259.6 L305.0 259.5 L305.5 259.4 L306.0 259.3 L306.5 259.5 L307.0 259.5 L307.5 259.7 L308.0 259.7 L308.5 259.3 L309.0 259.7 L309.5 259.3 L310.0 259.6 L310.5 259.7 L311.0 259.2 L311.5 259.8 L312.0 259.8 L312.5 259.7 L313.0 259.7 L313.5 259.7 L314.0 259.5 L314.5 259.7 L315.0 259.0 L315.5 259.1 L316.0 259.4 L316.5 259.9 L317.0 259.9 L317.5 259.8 L318.0 259.8 L318.5 260.1 L319.0 259.5 L319.5 260.1 L320.0 260.0 L320.5 260.1 L321.0 260.1 L321.5 259.8 L322.0 260.0 L322.5 260.2 L323.0 260.2 L323.5 260.1 L324.0 259.7 L324.5 260.3 L325.0 260.4 L325.5 260.4 L326.0 260.2 L326.5 259.7 L327.0 260.4 L327.5 260.1 L328.0 259.4 L328.5 260.3 L329.0 259.8 L329.5 259.8 L330.0 260.0 L330.5 260.5 L331.0 260.1 L331.5 260.3 L332.0 260.7 L332.5 260.6 L333.0 260.2 L333.5 260.1 L334.0 259.9 L334.5 260.0 L335.0 260.3 L335.5 260.3 L336.0 260.3 L336.5 260.5 L337.0 260.0 L337.5 260.2 L338.0 260.5 L338.5 260.4 L339.0 260.6 L339.5 260.4 L340.0 260.2 L340.5 260.4 L341.0 260.0 L341.5 259.8 L342.0 260.5 L342.5 260.3 L343.0 260.4 L343.5 259.9 L344.0 260.2 L344.5 260.2 L345.0 260.1 L345.5 259.7 L346.0 260.3 L346.5 260.6 L347.0 260.5 L347.5 260.2 L348.0 260.4 L348.5 260.7 L349.0 259.7 L349.5 260.4 L350.0 260.6 L350.5 260.7 L351.0 261.0 L351.5 260.8 L352.0 260.6 L352.5 260.6 L353.0 260.8 L353.5 260.4 L354.0 260.5 L354.5 260.8 L355.0 261.1 L355.5 260.5 L356.0 260.6 L356.5 260.6 L357.0 261.0 L357.5 260.6 L358.0 261.0 L358.5 260.3 L359.0 260.5 L359.5 260.5 L360.0 260.8 L360.5 260.9 L361.0 260.2 L361.5 260.3 L362.0 260.7 L362.5 260.4 L363.0 260.2 L363.5 260.9 L364.0 260.7 L364.5 260.7 L365.0 260.5 L365.5 260.9 L366.0 260.5 L366.5 260.9 L367.0 260.3 L367.5 260.4 L368.0 260.7 L368.5 260.4 L369.0 260.8 L369.5 260.7 L370.0 260.3 L370.5 260.6 L371.0 260.5 L371.5 260.9 L372.0 260.4 L372.5 260.5 L373.0 260.9 L373.5 261.2 L374.0 261.2 L374.5 260.6 L375.0 260.7 L375.5 261.0 L376.0 260.6 L376.5 260.3 L377.0 260.6 L377.5 260.7 L378.0 260.4 L378.5 260.1 L379.0 260.2 L379.5 260.8 L380.0 260.4 L380.5 260.6 L381.0 260.7 L381.5 260.8 L382.0 260.5 L382.5 260.7 L383.0 260.3 L383.5 260.5 L384.0 260.3 L384.5 260.8 L385.0 260.5 L385.5 260.3 L386.0 260.4 L386.5 260.4 L387.0 260.6 L387.5 260.0 L388.0 260.1 L388.5 260.3 L389.0 261.1 L389.5 260.6 L390.0 260.3 L390.5 260.5 L391.0 260.8 L391.5 260.2 L392.0 260.1 L392.5 260.5 L393.0 260.3 L393.5 260.3 L394.0 259.9 L394.5 260.5 L395.0 260.3 L395.5 259.9 L396.0 259.9 L396.5 259.0 L397.0 259.7 L397.5 259.4 L398.0 259.5 L398.5 259.5 L399.0 259.2 L399.5 258.7 L400.0 259.2 L400.5 258.8 L401.0 258.9 L401.5 258.7 L402.0 258.7 L402.5 258.2 L403.0 259.1 L403.5 258.9 L404.0 259.2 L404.5 259.4 L405.0 259.0 L405.5 258.5 L406.0 258.8 L406.5 258.8 L407.0 259.1 L407.5 259.4 L408.0 258.9 L408.5 259.6 L409.0 259.2 L409.5 259.8 L410.0 259.7 L410.5 259.7 L411.0 259.9 L411.5 259.8 L412.0 259.9 L412.5 259.7 L413.0 260.2 L413.5 260.8 L414.0 260.9 L414.5 260.8 L415.0 260.7 L415.5 260.4 L416.0 261.1 L416.5 260.7 L417.0 260.8 L417.5 260.8 L418.0 260.9 L418.5 260.8 L419.0 261.0 L419.5 260.7 L420.0 261.0 L420.5 261.7 L421.0 261.1 L421.5 261.1 L422.0 261.3 L422.5 261.4 L423.0 260.9 L423.5 261.2 L424.0 261.6 L424.5 261.4 L425.0 261.4 L425.5 261.8 L426.0 261.2 L426.5 261.4 L427.0 261.3 L427.5 261.9 L428.0 260.9 L428.5 261.3 L429.0 261.4 L429.5 261.7 L430.0 261.7 L430.5 262.0 L431.0 261.1 L431.5 261.8 L432.0 261.5 L432.5 261.5 L433.0 261.8 L433.5 261.4 L434.0 261.1 L434.5 261.6 L435.0 261.3 L435.5 261.6 L436.0 261.9 L436.5 261.9 L437.0 262.2 L437.5 261.8 L438.0 261.4 L438.5 261.6 L439.0 261.6 L439.5 261.5 L440.0 262.0 L440.5 261.7 L441.0 261.4 L441.5 262.2 L442.0 261.9 L442.5 262.1 L443.0 262.0 L443.5 262.2 L444.0 262.1 L444.5 262.4 L445.0 262.2 L445.5 262.2 L446.0 262.2 L446.5 261.7 L447.0 262.1 L447.5 262.1 L448.0 262.3 L448.5 261.8 L449.0 262.7 L449.5 262.3 L450.0 261.9 L450.5 261.8 L451.0 262.2 L451.5 262.3 L452.0 262.1 L452.5 262.4 L453.0 262.2 L453.5 262.6 L454.0 262.2 L454.5 262.4 L455.0 262.7 L455.5 263.2 L456.0 262.2 L456.5 262.4 L457.0 262.3 L457.5 262.8 L458.0 262.2 L458.5 262.4 L459.0 262.6 L459.5 262.3 L460.0 262.4 L460.5 262.5 L461.0 262.1 L461.5 262.3 L462.0 262.6 L462.5 262.8 L463.0 262.7 L463.5 262.3 L464.0 262.6 L464.5 263.0 L465.0 263.0 L465.5 262.8 L466.0 262.6 L466.5 263.0 L467.0 262.7 L467.5 262.6 L468.0 262.7 L468.5 263.3 L469.0 263.0 L469.5 263.3 L470.0 262.8 L470.5 263.2 L471.0 262.8 L471.5 263.0 L472.0 263.7 L472.5 263.3 L473.0 262.9 L473.5 263.1 L474.0 263.2 L474.5 263.5 L475.0 263.0 L475.5 262.7 L476.0 263.1 L476.5 263.2 L477.0 263.2 L477.5 263.6 L478.0 263.3 L478.5 263.5 L479.0 263.0 L479.5 263.5 L480.0 263.9 L480.5 263.5 L481.0 263.4 L481.5 263.4 L482.0 263.9 L482.5 263.1 L483.0 263.4 L483.5 263.5 L484.0 263.6 L484.5 263.3 L485.0 263.5 L485.5 263.4 L486.0 263.5 L486.5 263.5 L487.0 263.2 L487.5 263.5 L488.0 263.8 L488.5 263.3 L489.0 263.5 L489.5 263.8 L490.0 263.3 L490.5 263.7 L491.0 263.4 L491.5 264.0 L492.0 264.3 L492.5 264.3 L493.0 263.7 L493.5 263.9 L494.0 263.8 L494.5 263.8 L495.0 264.2 L495.5 263.4 L496.0 264.1 L496.5 263.8 L497.0 264.2 L497.5 263.9 L498.0 263.7 L498.5 264.0 L499.0 264.1 L499.5 263.9 L500.0 264.1 L500.5 263.8 L501.0 263.4 L501.5 264.2 L502.0 264.2 L502.5 264.0 L503.0 264.0 L503.5 264.3 L504.0 263.9 L504.5 263.9 L505.0 264.0 L505.5 264.4 L506.0 263.7 L506.5 264.4 L507.0 263.9 L507.5 263.8 L508.0 264.5 L508.5 264.1 L509.0 263.8 L509.5 264.1 L510.0 264.5 L510.5 264.5 L511.0 264.1 L511.5 264.4 L512.0 264.4 L512.5 264.1 L513.0 264.4 L513.5 264.3 L514.0 264.1 L514.5 264.2 L515.0 264.3 L515.5 264.3 L516.0 264.2 L516.5 264.2 L517.0 264.7 L517.5 264.4 L518.0 264.6 L518.5 264.7 L519.0 264.6 L519.5 265.1 L520.0 264.2 L520.5 264.7 L521.0 264.4 L521.5 265.0 L522.0 265.0 L522.5 264.0 L523.0 264.2 L523.5 264.7 L524.0 264.8 L524.5 264.7 L525.0 264.5 L525.5 264.7 L526.0 264.8 L526.5 264.6 L527.0 264.9 L527.5 264.0 L528.0 264.8 L528.5 264.3 L529.0 264.9 L529.5 264.6 L530.0 264.4 L530.5 264.8 L531.0 264.4 L531.5 264.4 L532.0 264.3 L532.5 264.7 L533.0 264.9 L533.5 265.0 L534.0 264.7 L534.5 265.0 L535.0 264.8 L535.5 264.7 L536.0 264.9 L536.5 265.1 L537.0 264.7 L537.5 264.7" stroke="#0606f8" stroke-width="3.5"/>
</g>
<g stroke="#000" stroke-width="2.3" fill="none"><path d="M116.4 9.8V20.5M116.4 30.2V40.9M116.4 50.5V61.2M116.4 70.9V81.6M116.4 91.2V101.9M116.4 111.3V122.0M116.4 131.4V142.1M116.4 151.5V162.2M116.4 171.6V182.3M116.4 191.7V202.4M116.4 211.7V222.4M116.4 231.8V242.5M116.4 251.9V262.6M116.4 271.9V282.6M116.4 292.0V302.7M116.4 312.0V322.7M116.4 332.1V342.8M116.4 352.4V363.1M116.4 372.8V383.5M116.4 393.1V400.9"/><path d="M168.3 10.4V21.1M168.3 30.8V41.5M168.3 51.1V61.8M168.3 71.5V82.2M168.3 91.8V102.5M168.3 111.9V122.6M168.3 132.0V142.7M168.3 152.1V162.8M168.3 172.2V182.9M168.3 192.3V203.0M168.3 212.3V223.0M168.3 232.4V243.1M168.3 252.5V263.2M168.3 272.5V283.2M168.3 292.6V303.3M168.3 312.6V323.3M168.3 332.7V343.4M168.3 353.0V363.7M168.3 373.4V384.1M168.3 393.7V401.2"/><path d="M200.0 8.3V19.0M200.0 28.7V39.4M200.0 49.0V59.7M200.0 69.4V80.1M200.0 89.7V100.4M200.0 109.8V120.5M200.0 129.9V140.6M200.0 150.0V160.7M200.0 170.1V180.8M200.0 190.2V200.9M200.0 210.2V220.9M200.0 230.3V241.0M200.0 250.4V261.1M200.0 270.4V281.1M200.0 290.5V301.2M200.0 310.5V321.2M200.0 330.6V341.3M200.0 350.9V361.6M200.0 371.3V382.0M200.0 391.6V399.6"/></g>
<rect x="41.8" y="6.2" width="495.59999999999997" height="398.5" fill="none" stroke="#000" stroke-width="2.1"/>
<g stroke="#000" stroke-width="2.0"><line x1="41.80" y1="404.7" x2="41.80" y2="411.9"/><line x1="66.58" y1="404.7" x2="66.58" y2="408.7"/><line x1="91.36" y1="404.7" x2="91.36" y2="411.9"/><line x1="116.14" y1="404.7" x2="116.14" y2="408.7"/><line x1="140.92" y1="404.7" x2="140.92" y2="411.9"/><line x1="165.70" y1="404.7" x2="165.70" y2="408.7"/><line x1="190.48" y1="404.7" x2="190.48" y2="411.9"/><line x1="215.26" y1="404.7" x2="215.26" y2="408.7"/><line x1="240.04" y1="404.7" x2="240.04" y2="411.9"/><line x1="264.82" y1="404.7" x2="264.82" y2="408.7"/><line x1="289.60" y1="404.7" x2="289.60" y2="411.9"/><line x1="314.38" y1="404.7" x2="314.38" y2="408.7"/><line x1="339.16" y1="404.7" x2="339.16" y2="411.9"/><line x1="363.94" y1="404.7" x2="363.94" y2="408.7"/><line x1="388.72" y1="404.7" x2="388.72" y2="411.9"/><line x1="413.50" y1="404.7" x2="413.50" y2="408.7"/><line x1="438.28" y1="404.7" x2="438.28" y2="411.9"/><line x1="463.06" y1="404.7" x2="463.06" y2="408.7"/><line x1="487.84" y1="404.7" x2="487.84" y2="411.9"/><line x1="512.62" y1="404.7" x2="512.62" y2="408.7"/><line x1="537.40" y1="404.7" x2="537.40" y2="411.9"/></g>
<g font-size="17.5px"><text transform="translate(41.80,431.2) scale(0.94,1)" text-anchor="middle">10</text><text transform="translate(91.36,431.2) scale(0.94,1)" text-anchor="middle">15</text><text transform="translate(140.92,431.2) scale(0.94,1)" text-anchor="middle">20</text><text transform="translate(190.48,431.2) scale(0.94,1)" text-anchor="middle">25</text><text transform="translate(240.04,431.2) scale(0.94,1)" text-anchor="middle">30</text><text transform="translate(289.60,431.2) scale(0.94,1)" text-anchor="middle">35</text><text transform="translate(339.16,431.2) scale(0.94,1)" text-anchor="middle">40</text><text transform="translate(388.72,431.2) scale(0.94,1)" text-anchor="middle">45</text><text transform="translate(438.28,431.2) scale(0.94,1)" text-anchor="middle">50</text><text transform="translate(487.84,431.2) scale(0.94,1)" text-anchor="middle">55</text><text transform="translate(537.40,431.2) scale(0.94,1)" text-anchor="middle">60</text></g>
<g font-size="20px">
<text x="207" y="143.4">26.04</text>
<text transform="translate(120.4,161.9) scale(1.012,1)">22.78</text>
<text transform="translate(67.1,187.6) scale(0.967,1)">17.62</text>
</g>
<g font-size="18px">
<text transform="translate(402.7,248.3) scale(1.028,1)">IP-ZrO<tspan dy="6.6" font-size="17.5px">2</tspan><tspan dy="-6.6">/BC-NF</tspan></text>
<text transform="translate(413.3,317.9) scale(1.045,1)">ZrO<tspan dy="6.6" font-size="17.5px">2</tspan><tspan dy="-6.6">/BCM</tspan></text>
<text x="468.6" y="372.7">BC</text>
</g>
<text x="257" y="456.8" font-size="20px" font-weight="bold">2</text>
<text transform="translate(267.1,456.8) scale(1.22,1)" font-size="20px" font-weight="bold">θ</text>
<text x="277.7" y="456.8" font-size="20px" letter-spacing="0.9">(°)</text>
<g font-weight="bold" font-size="22.6px">
<text transform="translate(23.2,286.4) rotate(-90) scale(1.09,1)">Intensity</text>
<text transform="translate(23.2,167.9) rotate(-90) scale(0.95,1)">a.u.</text>
</g>
<g font-size="19.5px" stroke="#000" stroke-width="0.4">
<text transform="translate(23.0,197.2) rotate(-90) scale(1.3,1)">（</text>
<text transform="translate(23.0,134.8) rotate(-90) scale(1.3,1)">）</text>
</g>
</svg>
</body></html>
